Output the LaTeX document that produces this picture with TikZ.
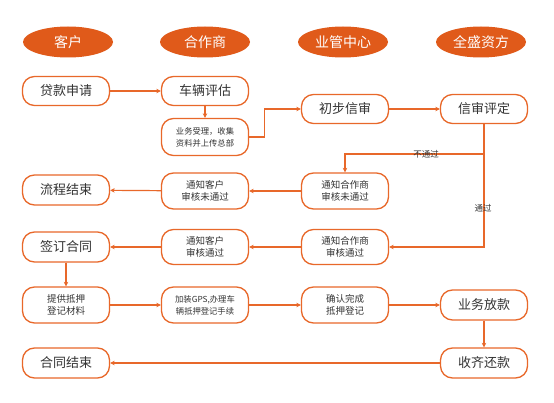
\documentclass[tikz,border=0pt]{standalone}
\usepackage{fontspec}
\setmainfont{Noto Sans CJK SC}
\usetikzlibrary{shapes.geometric,arrows.meta,calc}
\definecolor{hdr}{HTML}{E05A1A}
\definecolor{edge}{HTML}{E8682A}
\definecolor{txt}{HTML}{333333}
\tikzset{
  hdrnode/.style={ellipse,fill=hdr,draw=none,minimum width=90pt,minimum height=31pt,inner sep=0pt,text=white,font=\fontsize{14}{16}\selectfont},
  bigbox/.style={rectangle,rounded corners=12pt,draw=edge,line width=1.3pt,fill=white,minimum width=87pt,minimum height=29pt,inner sep=0pt,text=txt,font=\fontsize{13}{15}\selectfont},
  smallbox/.style={rectangle,rounded corners=12pt,draw=edge,line width=1.3pt,fill=white,minimum width=87pt,minimum height=36pt,inner sep=0pt,text=txt,align=center,font=\fontsize{9.5}{12}\selectfont},
  tinybox/.style={smallbox,font=\fontsize{8.3}{12}\selectfont},
  arr/.style={draw=edge,line width=1.2pt,-{Stealth[length=4.5pt,width=4.5pt]}},
  ln/.style={draw=edge,line width=1.2pt},
  lbl/.style={text=txt,font=\fontsize{8.5}{10}\selectfont,inner sep=0pt}
}
\begin{document}
\begin{tikzpicture}[x=1pt,y=-1pt]
\useasboundingbox[fill=white] (0,0) rectangle (554,403);
% headers
\node[hdrnode] (h1) at (68,42) {客户};
\node[hdrnode] (h2) at (205,42) {合作商};
\node[hdrnode] (h3) at (343,42) {业管中心};
\node[hdrnode] (h4) at (481,42) {全盛资方};
% boxes
\node[bigbox] (a1) at (66,91) {贷款申请};
\node[bigbox] (b1) at (205,91) {车辆评估};
\node[tinybox,minimum height=37pt] (b2) at (205,137) {业务受理，收集\\资料并上传总部};
\node[bigbox] (c1) at (345,109) {初步信审};
\node[bigbox] (d1) at (484,109) {信审评定};
\node[bigbox,minimum height=30pt] (a2) at (66,190) {流程结束};
\node[smallbox] (b3) at (205,191) {通知客户\\审核未通过};
\node[smallbox] (c3) at (345,191) {通知合作商\\审核未通过};
\node[bigbox,minimum height=30pt] (a3) at (66,247) {签订合同};
\node[smallbox,minimum height=35pt] (b4) at (205,247) {通知客户\\审核通过};
\node[smallbox,minimum height=35pt] (c4) at (345,247) {通知合作商\\审核通过};
\node[smallbox] (a4) at (66,305) {提供抵押\\登记材料};
\node[tinybox] (b5) at (205,305) {加装GPS,办理车\\辆抵押登记手续};
\node[smallbox] (c5) at (345,305) {确认完成\\抵押登记};
\node[bigbox,minimum height=30pt] (d5) at (484,305) {业务放款};
\node[bigbox,minimum height=30pt] (a6) at (66,363) {合同结束};
\node[bigbox,minimum height=30pt] (d6) at (484,363) {收齐还款};
% connectors
\draw[arr] (a1) -- (b1);
\draw[arr] (b1) -- (b2);
\draw[arr] (b2.east) -- ++(15,0) |- (c1.west);
\draw[arr] (c1) -- (d1);
\draw[arr] (d1.south) |- (c4.east);
\coordinate (split) at (484,154);
\draw[arr] (split) -| (c3.north);
\node[lbl] (l1) at (426,154) {不通过};
\node[lbl] (l2) at (483,208) {通过};
\draw[arr] (c3) -- (b3);
\draw[arr] (b3) -- (a2);
\draw[arr] (c4) -- (b4);
\draw[arr] (b4) -- (a3);
\draw[arr] (a3) -- (a4);
\draw[arr] (a4) -- (b5);
\draw[arr] (b5) -- (c5);
\draw[arr] (c5) -- (d5);
\draw[arr] (d5) -- (d6);
\draw[arr] (d6) -- (a6);
\end{tikzpicture}
\end{document}
